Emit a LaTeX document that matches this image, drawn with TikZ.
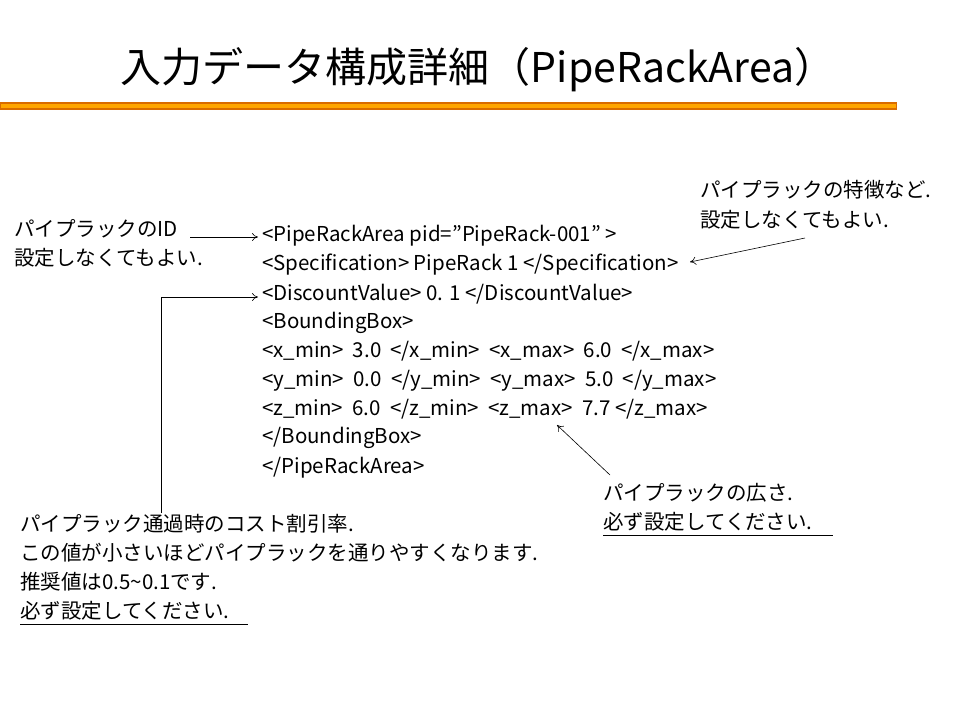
\documentclass[tikz,border=0pt]{standalone}
\usepackage{fontspec}
\usetikzlibrary{arrows.meta}
\setmainfont{Noto Sans CJK JP}
\begin{document}
\begin{tikzpicture}[x=1pt,y=-1pt,
 txt/.style={anchor=west,inner sep=0pt,font=\fontsize{20.5}{24}\selectfont},
 arr/.style={-{To[length=6pt,width=8pt]},semithick}]
\useasboundingbox (0,0) rectangle (960,720);
\node[inner sep=0pt,font=\fontsize{41}{48}\selectfont] (title) at (478,70) {入力データ構成詳細（PipeRackArea）};
\fill[orange!85!black] (0,102) rectangle (897,110);
\fill[orange!70!yellow] (1,104) rectangle (896,108);
\foreach \t [count=\i] in {<PipeRackArea pid=\char"22PipeRack-001\char"22\ >,<Specification> PipeRack 1 </Specification>,<DiscountValue> 0. 1 </DiscountValue>,<BoundingBox>,<x\_min>\ \ 3.0\ \ </x\_min>\ \ <x\_max>\ \ 6.0\ \ </x\_max>,<y\_min>\ \ 0.0\ \ </y\_min>\ \ <y\_max>\ \ 5.0\ \ </y\_max>,<z\_min>\ \ 6.0\ \ </z\_min>\ \ <z\_max>\ \ 7.7 </z\_max>,</BoundingBox>,</PipeRackArea>}
  \node[txt] (c\i) at (262,{236+28.9*(\i-1)}) {\t};
\node[txt] (l1) at (14,229) {パイプラックのID};
\node[txt] (l2) at (14,258) {設定しなくてもよい.};
\node[txt] (r1) at (700,190) {パイプラックの特徴など.};
\node[txt] (r2) at (700,220) {設定しなくてもよい.};
\node[txt] (b1) at (603,493) {パイプラックの広さ.};
\node[txt] (b2) at (603,522) {必ず設定してください.};
\draw (603,535) -- (833,535);
\node[txt] (d1) at (20,524) {パイプラック通過時のコスト割引率.};
\node[txt] (d2) at (20,553) {この値が小さいほどパイプラックを通りやすくなります.};
\node[txt] (d3) at (20,582) {推奨値は0.5\textasciitilde 0.1です.};
\node[txt] (d4) at (20,611) {必ず設定してください.};
\draw (20,624) -- (248,624);
\coordinate (a1) at (190,237); \coordinate (a2) at (805,238);
\coordinate (a3) at (161,513); \coordinate (a4) at (610,475);
\draw[arr] (a1) -- (258,237);
\draw[arr] (a2) -- (690,262);
\draw[arr] (a3) |- (258,297);
\draw[arr] (a4) -- (557,425);
\end{tikzpicture}
\end{document}
